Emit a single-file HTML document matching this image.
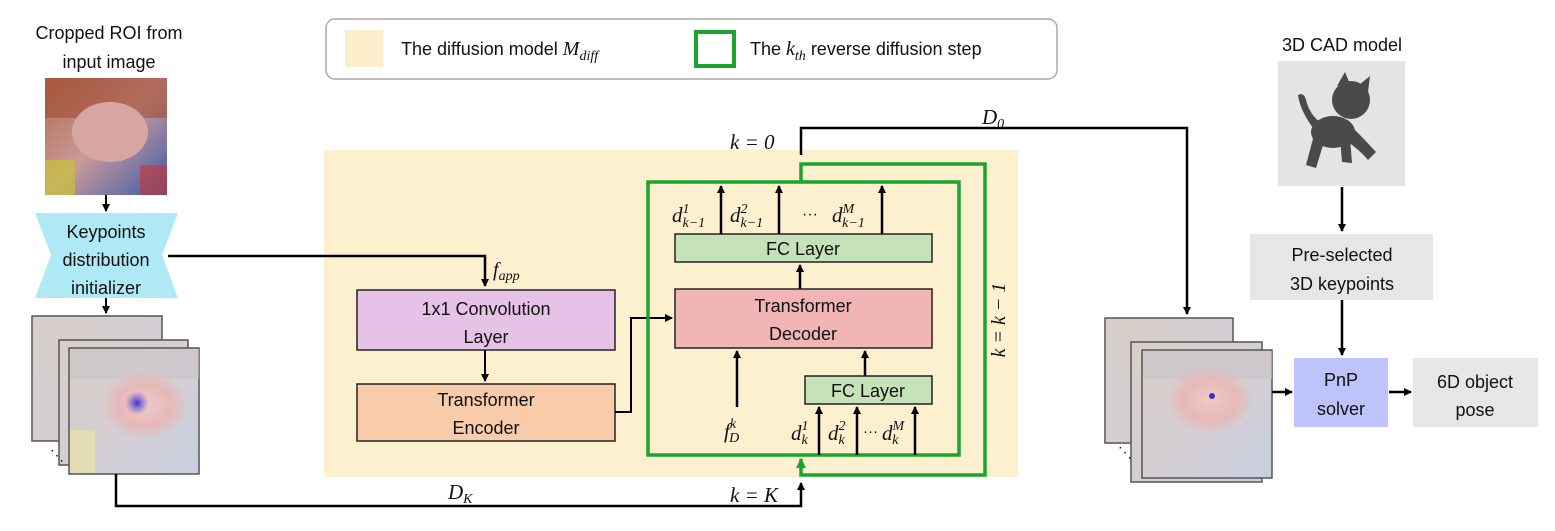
<!DOCTYPE html>
<html><head><meta charset="utf-8"><style>
body{margin:0;background:#fff}
svg text{font-family:"Liberation Sans",sans-serif;fill:#111}
.m{font-family:"Liberation Serif",serif;font-style:italic}
</style></head><body>
<svg width="1555" height="526" viewBox="0 0 1555 526" xmlns="http://www.w3.org/2000/svg">
<defs>
<marker id="a" markerWidth="8" markerHeight="8" refX="7" refY="4" orient="auto" markerUnits="userSpaceOnUse"><path d="M0,0 L8,4 L0,8 z" fill="#000"/></marker>
<marker id="g" markerWidth="10" markerHeight="10" refX="9" refY="5" orient="auto" markerUnits="userSpaceOnUse"><path d="M0,0 L10,5 L0,10 z" fill="#1aa52e"/></marker>
<radialGradient id="pk" cx="0.55" cy="0.5" r="0.5"><stop offset="0" stop-color="#efc9c9"/><stop offset="0.6" stop-color="#e6b9b8"/><stop offset="1" stop-color="#e6b9b8" stop-opacity="0"/></radialGradient>
<radialGradient id="bl" cx="0.5" cy="0.5" r="0.5"><stop offset="0" stop-color="#3a2fc8"/><stop offset="1" stop-color="#6a60e0" stop-opacity="0"/></radialGradient>
<linearGradient id="roi" x1="0" y1="0" x2="1" y2="1"><stop offset="0" stop-color="#b06a4a"/><stop offset="0.5" stop-color="#c99a9a"/><stop offset="1" stop-color="#3a5aa8"/></linearGradient>
<linearGradient id="fd" x1="0" y1="0" x2="1" y2="1"><stop offset="0" stop-color="#d8cfc8"/><stop offset="0.5" stop-color="#d5cfd3"/><stop offset="1" stop-color="#c8cfe0"/></linearGradient>
</defs>

<!-- legend -->
<rect x="326" y="19" width="731" height="60" rx="9" fill="#fff" stroke="#aaa" stroke-width="1.5"/>
<rect x="345" y="30" width="38" height="37" fill="#fdeecb"/>
<text x="401" y="55" font-size="18">The diffusion model <tspan class="m" font-size="20">M</tspan><tspan class="m" font-size="14" dy="5">diff</tspan></text>
<rect x="696" y="32" width="38" height="34" fill="none" stroke="#1aa52e" stroke-width="4"/>
<text x="750" y="55" font-size="18">The <tspan class="m" font-size="20">k</tspan><tspan class="m" font-size="14" dy="5">th</tspan><tspan dy="-5"> reverse diffusion step</tspan></text>

<!-- yellow bg -->
<rect x="324" y="150" width="694" height="327" fill="#fdf0cf"/>

<!-- left column -->
<text x="109" y="39" font-size="18" text-anchor="middle">Cropped ROI from</text>
<text x="109" y="68" font-size="18" text-anchor="middle">input image</text>
<rect x="45" y="78" width="122" height="117" fill="url(#roi)"/>
<rect x="45" y="78" width="122" height="40" fill="#a24d35" opacity="0.6"/>
<ellipse cx="110" cy="132" rx="38" ry="30" fill="#d8a6a2"/>
<rect x="45" y="160" width="30" height="35" fill="#c9c23a" opacity="0.7"/>
<rect x="140" y="165" width="27" height="30" fill="#c33" opacity="0.6"/>
<line x1="106" y1="195" x2="106" y2="211" stroke="#000" stroke-width="2" marker-end="url(#a)"/>
<path d="M35,213 L178,213 L162,255 L178,298 L35,298 L51,255 z" fill="#aee9f5"/>
<text x="106" y="238" font-size="18" text-anchor="middle">Keypoints</text>
<text x="106" y="266" font-size="18" text-anchor="middle">distribution</text>
<text x="106" y="294" font-size="18" text-anchor="middle">initializer</text>
<line x1="106" y1="298" x2="106" y2="313" stroke="#000" stroke-width="2" marker-end="url(#a)"/>
<g stroke="#555" stroke-width="1.5">
<rect x="32" y="316" width="130" height="125" fill="url(#fd)"/>
<rect x="59" y="340" width="129" height="125" fill="url(#fd)"/>
<rect x="69" y="348" width="130" height="126" fill="url(#fd)"/>
</g>
<rect x="70" y="430" width="25" height="43" fill="#e8e2a8" opacity="0.7"/>
<rect x="70" y="349" width="129" height="30" fill="#c9c3c9" opacity="0.6"/>
<ellipse cx="140" cy="405" rx="45" ry="35" fill="url(#pk)"/>
<circle cx="137" cy="403" r="12" fill="url(#bl)"/>
<text x="50" y="460" font-size="14">⋱</text>

<!-- fapp line -->
<polyline points="168,256 485,256 485,286" fill="none" stroke="#000" stroke-width="2.5" marker-end="url(#a)"/>
<text x="493" y="276" class="m" font-size="20">f<tspan font-size="14" dy="4">app</tspan></text>

<rect x="357" y="290" width="258" height="60" fill="#e6c3e6" stroke="#222" stroke-width="1.5"/>
<text x="486" y="315" font-size="18" text-anchor="middle">1x1 Convolution</text>
<text x="486" y="343" font-size="18" text-anchor="middle">Layer</text>
<line x1="485" y1="350" x2="485" y2="381" stroke="#000" stroke-width="2" marker-end="url(#a)"/>
<rect x="357" y="384" width="258" height="57" fill="#f8cbab" stroke="#222" stroke-width="1.5"/>
<text x="486" y="406" font-size="18" text-anchor="middle">Transformer</text>
<text x="486" y="434" font-size="18" text-anchor="middle">Encoder</text>
<polyline points="615,412 631,412 631,318 672,318" fill="none" stroke="#000" stroke-width="2" marker-end="url(#a)"/>

<!-- green loops -->
<polyline points="801,181 801,164 985,164 985,475 801,475 801,459" fill="none" stroke="#1aa52e" stroke-width="3.5" marker-end="url(#g)"/>
<rect x="648" y="182" width="311" height="273" fill="none" stroke="#1aa52e" stroke-width="3.5"/>
<text transform="translate(1005,320) rotate(-90)" class="m" font-size="20" text-anchor="middle">k = k − 1</text>

<!-- decoder internals -->
<rect x="675" y="234" width="257" height="28" fill="#c6e2b8" stroke="#222" stroke-width="1.5"/>
<text x="803" y="255" font-size="18" text-anchor="middle">FC Layer</text>
<g stroke="#000" stroke-width="2.5">
<line x1="721" y1="234" x2="721" y2="186" marker-end="url(#a)"/>
<line x1="779" y1="234" x2="779" y2="186" marker-end="url(#a)"/>
<line x1="882" y1="234" x2="882" y2="186" marker-end="url(#a)"/>
<line x1="800" y1="289" x2="800" y2="265" marker-end="url(#a)"/>
<line x1="865" y1="376" x2="865" y2="351" marker-end="url(#a)"/>
<line x1="737" y1="407" x2="737" y2="351" marker-end="url(#a)"/>
<line x1="819" y1="455" x2="819" y2="407" marker-end="url(#a)"/>
<line x1="857" y1="455" x2="857" y2="407" marker-end="url(#a)"/>
<line x1="915" y1="455" x2="915" y2="407" marker-end="url(#a)"/>
</g>
<text x="672" y="222" class="m" font-size="21">d<tspan font-size="14" dy="-9">1</tspan><tspan font-size="14" dx="-7" dy="14">k−1</tspan></text>
<text x="730" y="222" class="m" font-size="21">d<tspan font-size="14" dy="-9">2</tspan><tspan font-size="14" dx="-7" dy="14">k−1</tspan></text>
<text x="802" y="219" font-size="16">···</text>
<text x="832" y="222" class="m" font-size="21">d<tspan font-size="14" dy="-9">M</tspan><tspan font-size="14" dx="-12" dy="14">k−1</tspan></text>
<rect x="675" y="289" width="257" height="59" fill="#f2b5b5" stroke="#222" stroke-width="1.5"/>
<text x="803" y="312" font-size="18" text-anchor="middle">Transformer</text>
<text x="803" y="340" font-size="18" text-anchor="middle">Decoder</text>
<rect x="805" y="376" width="127" height="28" fill="#c6e2b8" stroke="#222" stroke-width="1.5"/>
<text x="868" y="397" font-size="18" text-anchor="middle">FC Layer</text>
<text x="724" y="438" class="m" font-size="21">f<tspan font-size="14" dy="-10">k</tspan><tspan font-size="14" dx="-7" dy="14">D</tspan></text>
<text x="791" y="440" class="m" font-size="21">d<tspan font-size="14" dy="-10">1</tspan><tspan font-size="14" dx="-7" dy="14">k</tspan></text>
<text x="828" y="440" class="m" font-size="21">d<tspan font-size="14" dy="-10">2</tspan><tspan font-size="14" dx="-7" dy="14">k</tspan></text>
<text x="863" y="436" font-size="15">···</text>
<text x="882" y="440" class="m" font-size="21">d<tspan font-size="14" dy="-10">M</tspan><tspan font-size="14" dx="-12" dy="14">k</tspan></text>

<!-- k=0 / D0 -->
<polyline points="801,155 801,128 1187,128 1187,314" fill="none" stroke="#000" stroke-width="2.5" marker-end="url(#a)"/>
<text x="730" y="149" class="m" font-size="21">k = 0</text>
<text x="982" y="124" class="m" font-size="21">D<tspan font-size="14" dy="4">0</tspan></text>

<!-- DK / k=K -->
<polyline points="116,474 116,506 801,506 801,483" fill="none" stroke="#000" stroke-width="2.5" marker-end="url(#a)"/>
<text x="448" y="499" class="m" font-size="21">D<tspan font-size="14" dy="4">K</tspan></text>
<text x="730" y="502" class="m" font-size="21">k = K</text>

<!-- right stack -->
<g stroke="#555" stroke-width="1.5">
<rect x="1105" y="318" width="128" height="125" fill="url(#fd)"/>
<rect x="1131" y="342" width="131" height="140" fill="url(#fd)"/>
<rect x="1142" y="350" width="130" height="128" fill="url(#fd)"/>
</g>
<rect x="1143" y="351" width="129" height="28" fill="#c9c3c9" opacity="0.6"/>
<ellipse cx="1205" cy="400" rx="45" ry="35" fill="url(#pk)"/>
<circle cx="1212" cy="396" r="3" fill="#3a2fc8"/>
<text x="1118" y="457" font-size="14">⋱</text>
<line x1="1272" y1="392" x2="1292" y2="392" stroke="#000" stroke-width="2.5" marker-end="url(#a)"/>

<text x="1342" y="51" font-size="18" text-anchor="middle">3D CAD model</text>
<rect x="1278" y="61" width="127" height="125" fill="#e4e4e4"/>
<g fill="#4a4a4a">
<circle cx="1351" cy="100" r="19"/>
<path d="M1337,86 L1345,72 L1350,84 z M1360,84 L1370,76 L1368,92 z"/>
<ellipse cx="1333" cy="132" rx="22" ry="16"/>
<path d="M1313,128 Q1300,110 1298,95 Q1304,92 1306,100 Q1310,115 1320,122 z"/>
<path d="M1314,135 L1306,165 L1316,168 L1324,142 z"/>
<path d="M1340,138 L1342,162 L1352,163 L1350,138 z"/>
<path d="M1345,140 Q1360,150 1368,160 L1376,152 Q1365,140 1355,130 z"/>
</g>
<line x1="1342" y1="187" x2="1342" y2="231" stroke="#000" stroke-width="2.5" marker-end="url(#a)"/>
<rect x="1250" y="234" width="183" height="66" fill="#e6e6e6"/>
<text x="1342" y="261" font-size="18" text-anchor="middle">Pre-selected</text>
<text x="1342" y="290" font-size="18" text-anchor="middle">3D keypoints</text>
<line x1="1342" y1="300" x2="1342" y2="355" stroke="#000" stroke-width="2.5" marker-end="url(#a)"/>
<rect x="1294" y="358" width="94" height="69" fill="#bfc3fb"/>
<text x="1341" y="386" font-size="18" text-anchor="middle">PnP</text>
<text x="1341" y="415" font-size="18" text-anchor="middle">solver</text>
<line x1="1389" y1="392" x2="1411" y2="392" stroke="#000" stroke-width="2.5" marker-end="url(#a)"/>
<rect x="1413" y="358" width="125" height="69" fill="#e6e6e6"/>
<text x="1475" y="388" font-size="18" text-anchor="middle">6D object</text>
<text x="1475" y="416" font-size="18" text-anchor="middle">pose</text>
</svg>
</body></html>
